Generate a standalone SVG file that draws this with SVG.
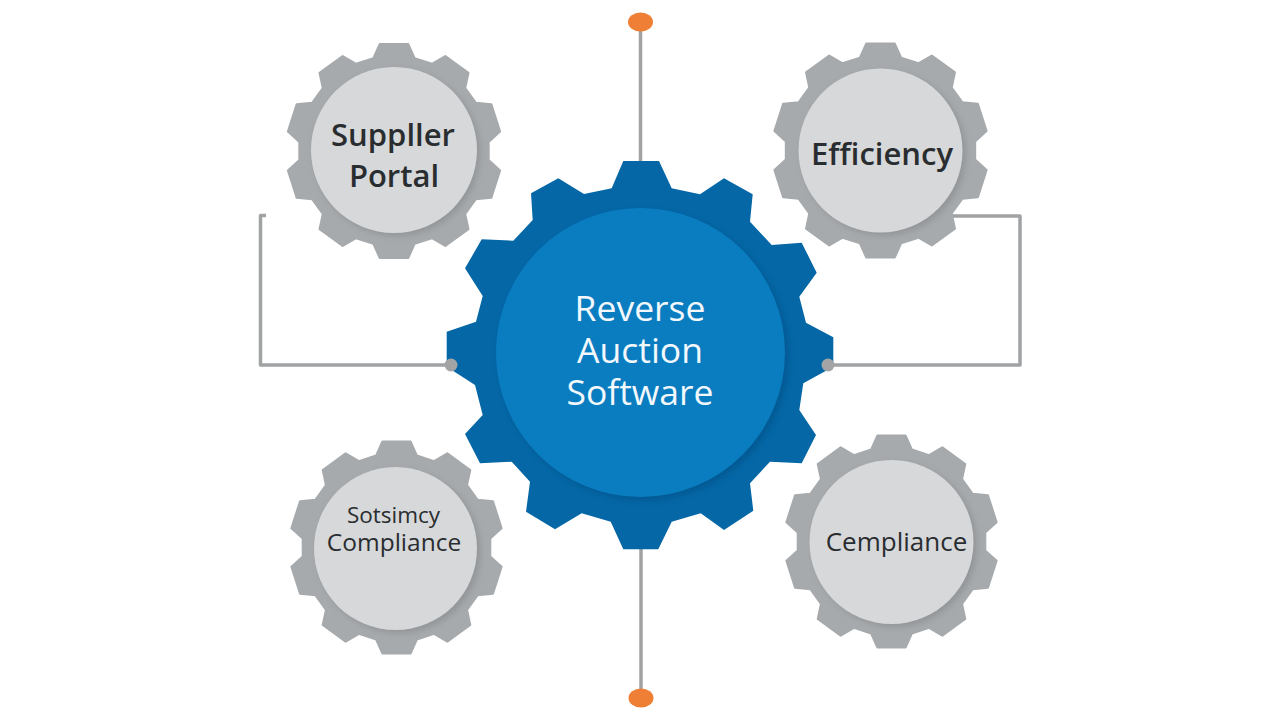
<svg xmlns="http://www.w3.org/2000/svg" width="1280" height="720" viewBox="0 0 1280 720">
<style>
.wire{fill:none;stroke:#a0a2a4;stroke-width:3.5;stroke-linejoin:round}
.dot{fill:#a2a4a6}
.tip{fill:#ee7f35}
.gear{fill:#a7aaad;stroke:#a7aaad;stroke-width:2;stroke-linejoin:round}
.face{fill:#d6d8da}
.shade{fill:#85888b;filter:url(#soft);opacity:.6}
.bshade{fill:#044a7c;filter:url(#soft);opacity:.45}
text{font-family:"Open Sans","Noto Sans","Liberation Sans",sans-serif;text-anchor:middle}
.dark{fill:#2a2d30;font-weight:600}
.mid{fill:#2a2d30;font-weight:500}
.light{fill:#f2f8fc;font-size:35.500px}
</style>
<defs>
<filter id="soft" x="-10%" y="-10%" width="120%" height="120%"><feGaussianBlur stdDeviation="3"/></filter>
<polygon id="cog" points="-19.050,-85.900 -13.200,-99 13.200,-99 19.050,-85.900 35.100,-80.700 47.500,-87.900 68.900,-72.400 65.900,-58.300 75.800,-44.600 90.100,-43.200 98.200,-18 87.600,-8.400 87.600,8.400 98.200,18 90.100,43.200 75.800,44.600 65.900,58.300 68.900,72.400 47.500,87.900 35.100,80.700 19.050,85.900 13.200,99 -13.200,99 -19.050,85.900 -35.100,80.700 -47.500,87.900 -68.900,72.400 -65.900,58.300 -75.800,44.600 -90.100,43.200 -98.200,18 -87.600,8.400 -87.600,-8.400 -98.200,-18 -90.100,-43.200 -75.800,-44.600 -65.900,-58.300 -68.900,-72.400 -47.500,-87.900 -35.100,-80.700"/>
</defs>
<rect width="1280" height="720" fill="#ffffff"/>
<g id="connectors">
<path class="wire" d="M640.500 22V165"/>
<path class="wire" d="M641 545V698"/>
<path class="wire" d="M266 215.500H260.500V365H451"/>
<path class="wire" d="M950 216H1020V365H828"/>
</g>
<g id="node-supplier-portal">
<use href="#cog" class="gear" transform="translate(394 151) scale(1.08)"/>
<circle class="shade" cx="397" cy="153" r="83"/>
<circle class="face" cx="394" cy="150" r="83"/>
<text class="dark" x="393" y="146" font-size="31">Suppller</text>
<text class="dark" x="394" y="187" font-size="31">Portal</text>
</g>
<g id="node-efficiency">
<use href="#cog" class="gear" transform="translate(880.500 150.500) scale(1.08)"/>
<circle class="shade" cx="884" cy="153.500" r="82"/>
<circle class="face" cx="880.500" cy="150.500" r="82"/>
<text class="dark" x="882" y="165" font-size="31">Efficiency</text>
</g>
<g id="node-sotsimcy-compliance">
<use href="#cog" class="gear" transform="translate(396.500 547.500) scale(1.07)"/>
<circle class="shade" cx="399" cy="551.500" r="81.500"/>
<circle class="face" cx="395.500" cy="548.500" r="81.500"/>
<text class="mid" x="393.500" y="523" font-size="22.500">Sotsimcy</text>
<text class="mid" x="394" y="551" font-size="24.500">Compliance</text>
</g>
<g id="node-cempliance">
<use href="#cog" class="gear" transform="translate(891.500 541.500) scale(1.07)"/>
<circle class="shade" cx="895" cy="545" r="82"/>
<circle class="face" cx="891.500" cy="542" r="82"/>
<text class="mid" x="896.500" y="551" font-size="26">Cempliance</text>
</g>
<g id="node-reverse-auction-software">
<polygon fill="#0567a6" points="623.300,161 659,161 671.700,188.300 700,194.300 724,178.300 752.700,194.300 750,221.700 771.700,245 801.700,242.700 816.700,272.700 799.300,296.700 806,322.700 833.300,337.300 833.300,366.700 803.300,383.300 799.300,410 816,435 801.700,463.300 770,461.700 750,483.300 753.300,510.700 724,530 700.700,513.300 671.700,521.700 658.300,549.300 623.300,549.300 610.700,521.700 581.700,513.300 555,529.300 526,511.700 530,481.700 511.700,461.700 480,463.300 465,434 482.700,415 475,385 446.700,366.700 446.700,331.700 476,321.700 482.700,296 465,268.300 481.700,239.300 513.300,240.700 532.700,220 531,193.300 558.300,178.300 584,194 611.700,188.300"/>
<circle class="bshade" cx="644" cy="356" r="144.500"/>
<circle cx="640.500" cy="352.500" r="144.500" fill="#0a7dc1"/>
<text class="light" x="640" y="321">Reverse</text>
<text class="light" x="640" y="363">Auction</text>
<text class="light" x="640" y="405">Software</text>
</g>
<g id="connector-ends">
<ellipse class="tip" cx="640.500" cy="22" rx="12.500" ry="9.500"/>
<ellipse class="tip" cx="641" cy="698" rx="12.500" ry="9.500"/>
<circle class="dot" cx="451" cy="365" r="6.500"/>
<circle class="dot" cx="828" cy="365" r="6.500"/>
</g>
</svg>
